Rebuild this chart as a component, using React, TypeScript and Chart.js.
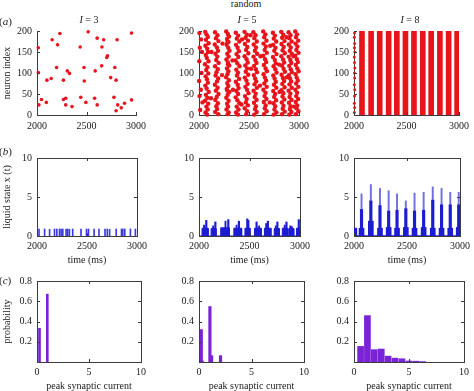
import React, { useEffect, useRef } from 'react';
import { Chart, registerables } from 'chart.js';

Chart.register(...registerables);

const FONT = "'Liberation Serif', 'DejaVu Serif', serif";
const RED = '#e8141c';
const BLUE = '#1c1cd2';
const LIGHT_BLUE = '#7070e2';
const PURPLE = '#7a22d8';
const AXIS = '#3c3c3c';
const TEXT = '#1a1a1a';

// ---------- tick labels ----------
const timeTicks = [2000, 2500, 3000];
const neuronTicks = [0, 50, 100, 150, 200];
const liquidTicks = [0, 5, 10];
const currentTicks = [0, 5, 10];
const probTicks = [0.2, 0.4, 0.6, 0.8];

// ---------- (a) raster plots: [time ms, neuron index] ----------
const rasterI3: [number, number][] = [
  [2013, 160], [2013, 101], [2019, 24], [2045, 37], [2094, 30], [2100, 83], [2143, 87],
  [2153, 179], [2198, 113], [2208, 167], [2231, 194], [2267, 83], [2267, 37], [2290, 40],
  [2290, 24], [2306, 105], [2328, 99], [2354, 20], [2436, 162], [2442, 42], [2475, 113],
  [2478, 81], [2494, 30], [2517, 198], [2582, 40], [2588, 105], [2608, 183], [2608, 24],
  [2653, 117], [2656, 162], [2673, 179], [2705, 137], [2712, 141], [2744, 89], [2777, 42],
  [2786, 113], [2799, 83], [2799, 10], [2809, 179], [2815, 24], [2851, 17], [2884, 28],
  [2955, 195], [2955, 36],
];

const rasterI5: [number, number][] = [
  [2004, 195], [2008, 160], [2003, 128], [2001, 81], [2005, 45], [2012, 12], [2020, 180], [2025, 100], [2018, 60], [2030, 150], [2035, 30],
  [2062, 198], [2075, 192], [2088, 186], [2070, 179], [2096, 171], [2064, 165], [2082, 158], [2091, 150], [2068, 143], [2078, 136], [2095, 128], [2060, 121], [2085, 114], [2072, 107], [2093, 99], [2066, 92], [2080, 85], [2089, 77], [2063, 70], [2076, 63], [2097, 55], [2069, 48], [2084, 41], [2061, 34], [2092, 27], [2074, 20], [2087, 13], [2065, 6], [2081, 1],
  [2160, 197], [2185, 190], [2170, 183], [2194, 176], [2158, 168], [2179, 161], [2190, 153], [2165, 146], [2183, 139], [2172, 131], [2196, 124], [2161, 116], [2188, 109], [2175, 102], [2166, 94], [2192, 87], [2180, 80], [2159, 72], [2186, 65], [2169, 58], [2195, 50], [2177, 43], [2163, 36], [2189, 28], [2173, 21], [2182, 14], [2162, 7], [2193, 2],
  [2272, 199], [2288, 193], [2300, 187], [2280, 181], [2295, 174], [2276, 167], [2292, 160], [2305, 153], [2283, 146], [2297, 139], [2274, 132], [2289, 125], [2302, 118], [2279, 111], [2294, 104], [2285, 97], [2271, 90], [2299, 83], [2282, 76], [2293, 69], [2277, 62], [2304, 55], [2287, 48], [2273, 41], [2296, 34], [2281, 27], [2291, 20], [2275, 13], [2298, 6], [2286, 2], [2284, 173], [2290, 121], [2283, 58],
  [2368, 196], [2392, 189], [2378, 182], [2403, 175], [2370, 167], [2386, 160], [2399, 152], [2375, 145], [2393, 138], [2366, 130], [2383, 123], [2405, 116], [2373, 108], [2390, 101], [2380, 94], [2401, 86], [2369, 79], [2387, 72], [2396, 64], [2374, 57], [2391, 50], [2367, 42], [2384, 35], [2404, 28], [2377, 20], [2395, 13], [2371, 6], [2389, 1],
  [2455, 198], [2478, 191], [2466, 184], [2490, 177], [2459, 169], [2483, 162], [2471, 155], [2493, 147], [2456, 140], [2476, 133], [2487, 125], [2463, 118], [2481, 111], [2468, 103], [2492, 96], [2458, 89], [2474, 82], [2486, 74], [2464, 67], [2480, 60], [2495, 52], [2460, 45], [2477, 38], [2469, 30], [2489, 23], [2457, 16], [2482, 9], [2472, 2],
  [2544, 197], [2566, 190], [2553, 183], [2578, 175], [2547, 168], [2570, 161], [2559, 153], [2581, 146], [2545, 139], [2563, 131], [2575, 124], [2551, 117], [2568, 109], [2580, 102], [2548, 95], [2561, 87], [2573, 80], [2555, 73], [2579, 65], [2546, 58], [2567, 51], [2557, 43], [2576, 36], [2550, 29], [2569, 21], [2560, 14], [2577, 7], [2552, 1],
  [2642, 199], [2664, 192], [2652, 185], [2675, 177], [2645, 170], [2668, 163], [2657, 155], [2678, 148], [2643, 141], [2661, 133], [2672, 126], [2649, 119], [2666, 111], [2679, 104], [2646, 97], [2659, 89], [2671, 82], [2653, 75], [2677, 67], [2644, 60], [2665, 53], [2655, 45], [2674, 38], [2648, 31], [2667, 23], [2658, 16], [2676, 9], [2650, 2],
  [2739, 196], [2760, 189], [2748, 182], [2772, 175], [2741, 167], [2764, 160], [2753, 153], [2775, 145], [2740, 138], [2758, 131], [2769, 123], [2746, 116], [2763, 109], [2776, 101], [2743, 94], [2756, 87], [2768, 79], [2750, 72], [2773, 65], [2742, 57], [2761, 50], [2752, 43], [2771, 35], [2745, 28], [2762, 21], [2754, 13], [2774, 6], [2747, 1],
  [2822, 198], [2843, 191], [2831, 184], [2855, 176], [2825, 169], [2847, 162], [2836, 154], [2858, 147], [2823, 140], [2841, 132], [2852, 125], [2829, 118], [2846, 110], [2859, 103], [2826, 96], [2839, 88], [2851, 81], [2833, 74], [2856, 66], [2824, 59], [2844, 52], [2835, 44], [2854, 37], [2828, 30], [2845, 22], [2837, 15], [2857, 8], [2830, 2],
  [2896, 197], [2915, 190], [2904, 183], [2926, 175], [2898, 168], [2918, 161], [2908, 153], [2928, 146], [2897, 139], [2913, 131], [2923, 124], [2902, 117], [2917, 109], [2929, 102], [2899, 95], [2911, 87], [2922, 80], [2905, 73], [2927, 65], [2896, 58], [2914, 51], [2906, 43], [2925, 36], [2900, 29], [2916, 21], [2909, 14], [2924, 7], [2903, 1],
  [2962, 199], [2980, 192], [2970, 185], [2992, 177], [2965, 170], [2984, 163], [2974, 155], [2995, 148], [2963, 141], [2979, 133], [2989, 126], [2968, 119], [2983, 111], [2996, 104], [2966, 97], [2977, 89], [2988, 82], [2971, 75], [2993, 67], [2964, 60], [2981, 53], [2972, 45], [2991, 38], [2967, 31], [2982, 23], [2975, 16], [2994, 9], [2969, 2],
  [2125, 150], [2120, 40], [2230, 95], [2235, 170], [2340, 60], [2335, 130], [2430, 180], [2425, 25], [2520, 110], [2515, 190], [2610, 70], [2615, 140], [2708, 30], [2712, 165], [2800, 120], [2805, 55], [2880, 90], [2875, 185], [2945, 140], [2950, 20],
];

// I = 8: synchronous bursts (every neuron 0..200 fires) plus a few early spikes
const burstTimesRasterI8 = [2076, 2163, 2245, 2330, 2408, 2490, 2571, 2655, 2735, 2818, 2901, 2982];
const burstRangeI8: [number, number] = [0, 200];
const earlySpikesI8: [number, number][] = [
  [2005, 195], [2003, 185], [2006, 170], [2004, 160], [2007, 150], [2003, 138], [2005, 125], [2008, 112],
  [2004, 100], [2006, 88], [2003, 72], [2007, 60], [2005, 45], [2004, 28], [2006, 18], [2003, 6],
];

// ---------- (b) liquid state x(t) ----------
const spikeTimesI3 = [2020, 2076, 2126, 2175, 2198, 2225, 2241, 2258, 2291, 2307, 2324, 2357, 2440, 2495, 2515, 2571, 2620, 2680, 2703, 2726, 2792, 2845, 2858, 2878, 2934, 2984];
const spikeHeightsI3 = [0.9, 0.9, 0.85, 0.9, 0.9, 0.9, 0.9, 0.9, 0.9, 0.9, 0.85, 0.9, 0.9, 0.9, 0.9, 0.9, 0.9, 0.9, 0.9, 0.85, 0.9, 0.9, 0.9, 0.9, 0.9, 0.9];

const burstStartI5 = [2030, 2120, 2215, 2345, 2455, 2550, 2648, 2745, 2825, 2888, 2965];
const burstEndI5 = [2090, 2168, 2300, 2422, 2505, 2615, 2712, 2795, 2875, 2938, 2995];
const burstLevelI5 = [1.0, 0.95, 1.05, 1.0, 1.0, 1.0, 1.0, 0.95, 1.0, 0.95, 1.0];
const peakTimeI5 = [2072, 2162, 2290, 2395, 2478, 2570, 2682, 2776, 2866, 2905, 2988];
const peakHeightI5 = [2.0, 1.8, 2.1, 1.9, 2.2, 1.8, 1.9, 1.8, 1.8, 1.3, 2.1];
const spike2TimeI5 = [2050, 2140, 2262, 2372, 2490, 2595, 2665, 2760, 2848, 2920];
const spike2HeightI5 = [1.4, 1.3, 1.9, 1.4, 2.0, 1.3, 1.6, 1.3, 1.4, 1.2];

const burstTimeI8 = [2071, 2159, 2245, 2327, 2406, 2489, 2571, 2657, 2743, 2826, 2908, 2988];
const peakHeightI8 = [5.4, 6.6, 6.1, 5.8, 5.4, 4.5, 5.5, 5.6, 6.3, 6.1, 5.6, 5.6];
const coreHeightI8 = [3.4, 4.5, 3.9, 3.2, 3.3, 3.5, 3.2, 3.3, 4.6, 4.0, 4.0, 4.0];
const baseHeightI8 = [1.0, 1.9, 1.0, 1.1, 1.0, 1.1, 1.0, 1.1, 1.0, 1.0, 1.0, 1.1];
const earlyTimesI8 = [2003, 2008];
const earlyHeightsI8 = [1.0, 1.0];

// ---------- (c) peak synaptic current histograms ----------
const histXI3 = [0.24, 0.99];
const histYI3 = [0.333, 0.67];
const histXI5 = [0.22, 0.3, 1.04, 1.2, 2.05];
const histYI5 = [0.32, 0.01, 0.548, 0.063, 0.063];
const histXI8 = [0.6, 1.22, 1.85, 2.48, 3.1, 3.73, 4.36, 4.99, 5.62, 6.25];
const histYI8 = [0.154, 0.458, 0.122, 0.128, 0.058, 0.038, 0.032, 0.01, 0.008, 0.004];

// ---------- layout ----------
const COLS = [{ l: 37, r: 141 }, { l: 199, r: 304 }, { l: 354, r: 464 }];
const ROWS = [{ t: 30, b: 115 }, { t: 157, b: 236 }, { t: 280, b: 362 }];
const PAD_T = 10;
const PAD_R = 10;

function makeBoxPlugin(full: boolean) {
  return {
    id: 'matlabBox',
    afterDraw(chart: any) {
      const { ctx, chartArea: a } = chart;
      const xs = chart.scales.x;
      const ys = chart.scales.y;
      ctx.save();
      ctx.strokeStyle = AXIS;
      ctx.lineWidth = 1;
      ctx.beginPath();
      if (full) {
        ctx.moveTo(a.left, Math.floor(a.top) + 0.5);
        ctx.lineTo(a.right, Math.floor(a.top) + 0.5);
        ctx.moveTo(Math.floor(a.right) + 0.5, a.top);
        ctx.lineTo(Math.floor(a.right) + 0.5, a.bottom);
      }
      xs.ticks.forEach((t: any) => {
        const px = Math.round(xs.getPixelForValue(t.value)) + 0.5;
        ctx.moveTo(px, a.bottom);
        ctx.lineTo(px, a.bottom - 3);
        if (full) {
          ctx.moveTo(px, a.top);
          ctx.lineTo(px, a.top + 3);
        }
      });
      ys.ticks.forEach((t: any) => {
        const py = Math.round(ys.getPixelForValue(t.value)) + 0.5;
        ctx.moveTo(a.left, py);
        ctx.lineTo(a.left + 3, py);
        if (full) {
          ctx.moveTo(a.right, py);
          ctx.lineTo(a.right - 3, py);
        }
      });
      ctx.stroke();
      ctx.restore();
    },
  };
}

type Spec = {
  datasets: any[];
  x: [number, number];
  xTicks: number[];
  y: [number, number];
  yTicks: number[];
  xTitle?: string;
  yTitle?: string;
  full: boolean;
  L: number;
  B: number;
  xPad: number;
};

function buildConfig(p: Spec): any {
  const font = { family: FONT, size: 10 };
  return {
    type: 'scatter',
    data: { datasets: p.datasets },
    options: {
      responsive: false,
      animation: false,
      events: [],
      layout: { padding: { top: PAD_T, right: PAD_R, left: 0, bottom: 0 } },
      plugins: { legend: { display: false }, tooltip: { enabled: false } },
      scales: {
        x: {
          type: 'linear',
          min: p.x[0],
          max: p.x[1],
          offset: false,
          grid: { display: false, drawTicks: false },
          border: { display: true, color: AXIS, width: 1 },
          afterBuildTicks: (s: any) => {
            s.ticks = p.xTicks.map((v) => ({ value: v }));
          },
          ticks: { font, color: TEXT, padding: p.xPad, maxRotation: 0, autoSkip: false, callback: (v: any) => String(v) },
          title: { display: !!p.xTitle, text: p.xTitle || '', font, color: TEXT, padding: { top: 0, bottom: 4 } },
          afterFit: (s: any) => {
            s.height = p.B;
          },
        },
        y: {
          type: 'linear',
          min: p.y[0],
          max: p.y[1],
          grid: { display: false, drawTicks: false },
          border: { display: true, color: AXIS, width: 1 },
          afterBuildTicks: (s: any) => {
            s.ticks = p.yTicks.map((v) => ({ value: v }));
          },
          ticks: { font, color: TEXT, padding: 5, autoSkip: false, callback: (v: any) => String(v) },
          title: { display: !!p.yTitle, text: p.yTitle || '', font, color: TEXT, padding: { top: 1, bottom: 0 } },
          afterFit: (s: any) => {
            s.width = p.L;
          },
        },
      },
    },
    plugins: [makeBoxPlugin(p.full)],
  };
}

const pts = (arr: [number, number][]) => arr.map(([x, y]) => ({ x, y }));
const bars = (xs: number[], ys: number[]) => xs.map((x, i) => ({ x, y: [0, ys[i]] }));

function scatterDs(data: [number, number][], r: number) {
  return {
    type: 'scatter',
    data: pts(data),
    pointRadius: r,
    pointBackgroundColor: RED,
    pointBorderWidth: 0,
    showLine: false,
    clip: 4,
  };
}

function barDs(data: any[], color: string, thickness: number) {
  return {
    type: 'bar',
    data,
    backgroundColor: color,
    borderWidth: 0,
    barThickness: thickness,
    grouped: false,
  };
}

function traceI5() {
  const d: { x: number; y: number }[] = [{ x: 2000, y: 0 }];
  burstStartI5.forEach((s, i) => {
    d.push({ x: s, y: 0 }, { x: s, y: burstLevelI5[i] }, { x: burstEndI5[i], y: burstLevelI5[i] }, { x: burstEndI5[i], y: 0 });
  });
  d.push({ x: 3000, y: 0 });
  return d;
}

const baseline = () => ({
  type: 'line',
  data: [{ x: 2000, y: 0 }, { x: 3000, y: 0 }],
  borderColor: BLUE,
  borderWidth: 1.5,
  pointRadius: 0,
});

// NB: Chart.js paints dataset 0 last (on top)
function panelSpecs(): { spec: Spec; row: number; col: number }[] {
  const rowA = { x: [2000, 3000] as [number, number], xTicks: timeTicks, y: [0, 200] as [number, number], yTicks: neuronTicks, full: false, B: 24, xPad: 5 };
  const rowB = { x: [2000, 3000] as [number, number], xTicks: timeTicks, y: [0, 10] as [number, number], yTicks: liquidTicks, full: true, B: 34, xPad: 4, xTitle: 'time (ms)' };
  const rowC = { x: [0, 10] as [number, number], xTicks: currentTicks, y: [0, 0.8] as [number, number], yTicks: probTicks, full: true, B: 34, xPad: 4, xTitle: 'peak synaptic current' };
  return [
    { row: 0, col: 0, spec: { ...rowA, L: 37, yTitle: 'neuron index', datasets: [scatterDs(rasterI3, 1.8)] } },
    { row: 0, col: 1, spec: { ...rowA, L: 34, datasets: [scatterDs(rasterI5, 2.2)] } },
    {
      row: 0, col: 2, spec: {
        ...rowA, L: 34, datasets: [
          barDs(burstTimesRasterI8.map((t) => ({ x: t, y: burstRangeI8 })), RED, 5),
          scatterDs(earlySpikesI8, 1.5),
        ],
      },
    },
    {
      row: 1, col: 0, spec: {
        ...rowB, L: 37, yTitle: 'liquid state x (t)', datasets: [barDs(bars(spikeTimesI3, spikeHeightsI3), '#3c3cdc', 1)],
      },
    },
    {
      row: 1, col: 1, spec: {
        ...rowB, L: 34, datasets: [
          { type: 'line', data: traceI5(), borderColor: BLUE, backgroundColor: BLUE, borderWidth: 1, pointRadius: 0, fill: 'origin' },
          barDs(bars(peakTimeI5, peakHeightI5), BLUE, 1.5),
          barDs(bars(spike2TimeI5, spike2HeightI5), BLUE, 1.2),
        ],
      },
    },
    {
      row: 1, col: 2, spec: {
        ...rowB, L: 34, datasets: [
          barDs(bars(burstTimeI8, coreHeightI8), BLUE, 2.5),
          barDs(bars(burstTimeI8, baseHeightI8), BLUE, 5),
          barDs(bars(earlyTimesI8, earlyHeightsI8), BLUE, 4),
          barDs(bars(burstTimeI8, peakHeightI8), LIGHT_BLUE, 1.3),
          baseline(),
        ],
      },
    },
    { row: 2, col: 0, spec: { ...rowC, L: 37, yTitle: 'probability', datasets: [barDs(bars(histXI3, histYI3), PURPLE, 2)] } },
    { row: 2, col: 1, spec: { ...rowC, L: 34, datasets: [barDs(bars(histXI5, histYI5), PURPLE, 2.5)] } },
    { row: 2, col: 2, spec: { ...rowC, L: 34, datasets: [barDs(bars(histXI8, histYI8), PURPLE, 6)] } },
  ];
}

function Panel({ spec, row, col }: { spec: Spec; row: number; col: number }) {
  const ref = useRef<HTMLCanvasElement>(null);
  const c = COLS[col];
  const r = ROWS[row];
  const left = c.l - spec.L;
  const top = r.t - PAD_T;
  const width = c.r - c.l + spec.L + PAD_R;
  const height = r.b - r.t + PAD_T + spec.B;
  useEffect(() => {
    const chart = new Chart(ref.current as HTMLCanvasElement, buildConfig(spec));
    return () => chart.destroy();
  }, []);
  return (
    <canvas
      ref={ref}
      width={width}
      height={height}
      style={{ position: 'absolute', left, top, width, height }}
    />
  );
}

const labelStyle = (left: number, top: number, size = 10, center = false): React.CSSProperties => ({
  position: 'absolute',
  left,
  top,
  fontSize: size,
  lineHeight: '12px',
  fontFamily: FONT,
  color: TEXT,
  whiteSpace: 'nowrap',
  transform: center ? 'translateX(-50%)' : undefined,
});

export default function App() {
  const specs = panelSpecs();
  return (
    <div
      style={{
        position: 'absolute',
        left: 0,
        top: 0,
        width: 474,
        height: 391,
        overflow: 'hidden',
        background: '#fff',
      }}
    >
      {specs.map((s, i) => (
        <Panel key={i} spec={s.spec} row={s.row} col={s.col} />
      ))}
      <div style={labelStyle(-1, 15, 11)}>(<i>a</i>)</div>
      <div style={labelStyle(-1, 145, 11)}>(<i>b</i>)</div>
      <div style={labelStyle(-1, 274, 11)}>(<i>c</i>)</div>
      <div style={labelStyle(246, -2, 10, true)}>random</div>
      <div style={labelStyle(89, 14, 10, true)}><i>I</i> = 3</div>
      <div style={labelStyle(247, 14, 10, true)}><i>I</i> = 5</div>
      <div style={labelStyle(410, 14, 10, true)}><i>I</i> = 8</div>
    </div>
  );
}
